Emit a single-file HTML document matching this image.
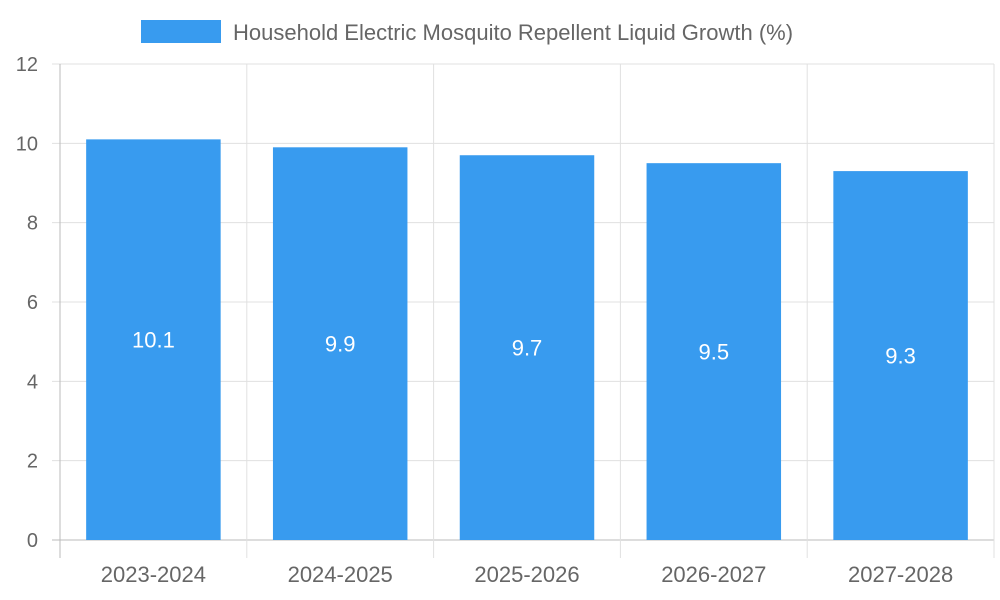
<!DOCTYPE html>
<html><head><meta charset="utf-8"><style>
body{margin:0;background:#fff;}
svg{display:block;font-family:"Liberation Sans",Arial,sans-serif;}
</style></head><body>
<svg id="chart" width="1000" height="600">
<rect x="141" y="20" width="80" height="23" fill="#389bef"/>
<text x="233" y="40" font-size="22" fill="#666">Household Electric Mosquito Repellent Liquid Growth (%)</text>
<g id="grid"></g><g id="bars"></g><g id="labels"></g>
</svg>
<script>
const categories=["2023-2024","2024-2025","2025-2026","2026-2027","2027-2028"];
const values=[10.1,9.9,9.7,9.5,9.3];
const yTicks=[0,2,4,6,8,10,12];
const L=60,R=994,T=64,B=540,yMax=12;
const ns="http://www.w3.org/2000/svg";
const slot=(R-L)/categories.length;
function y(v){return B-(v/yMax)*(B-T);}
function xc(i){return L+slot*(i+0.5);}
function mk(tag,attrs,parent){const e=document.createElementNS(ns,tag);for(const k in attrs)e.setAttribute(k,attrs[k]);parent.appendChild(e);return e;}
const grid=document.getElementById('grid'),bars=document.getElementById('bars'),labels=document.getElementById('labels');
yTicks.forEach(t=>{
  const ln=mk('line',{x1:52,x2:R,y1:y(t),y2:y(t),stroke:t===0?'#bbb':'#e0e0e0','stroke-width':1},grid);
  
  
  const tx=mk('text',{x:38,y:y(t)+7,'text-anchor':'end','font-size':20,fill:'#666'},grid);
  tx.textContent=t;
  
  
});
for(let i=0;i<=categories.length;i++){
  const x=L+slot*i;
  const ln=mk('line',{x1:x,x2:x,y1:T,y2:558,stroke:i===0?'#bbb':'#e0e0e0','stroke-width':1},grid);
  
  
}
const bw=slot*0.72;
categories.forEach((c,i)=>{
  const r=mk('rect',{x:xc(i)-bw/2,y:y(values[i]),width:bw,height:B-y(values[i]),fill:'#389bef'},bars);
  
  
  const v=mk('text',{x:xc(i),y:(y(values[i])+B)/2+8,'text-anchor':'middle','font-size':22,fill:'#fff'},labels);
  v.textContent=values[i];
  
  
  const t=mk('text',{x:xc(i),y:582,'text-anchor':'middle','font-size':22,fill:'#666'},labels);
  t.textContent=c;
  
  
});
</script>
</body></html>
